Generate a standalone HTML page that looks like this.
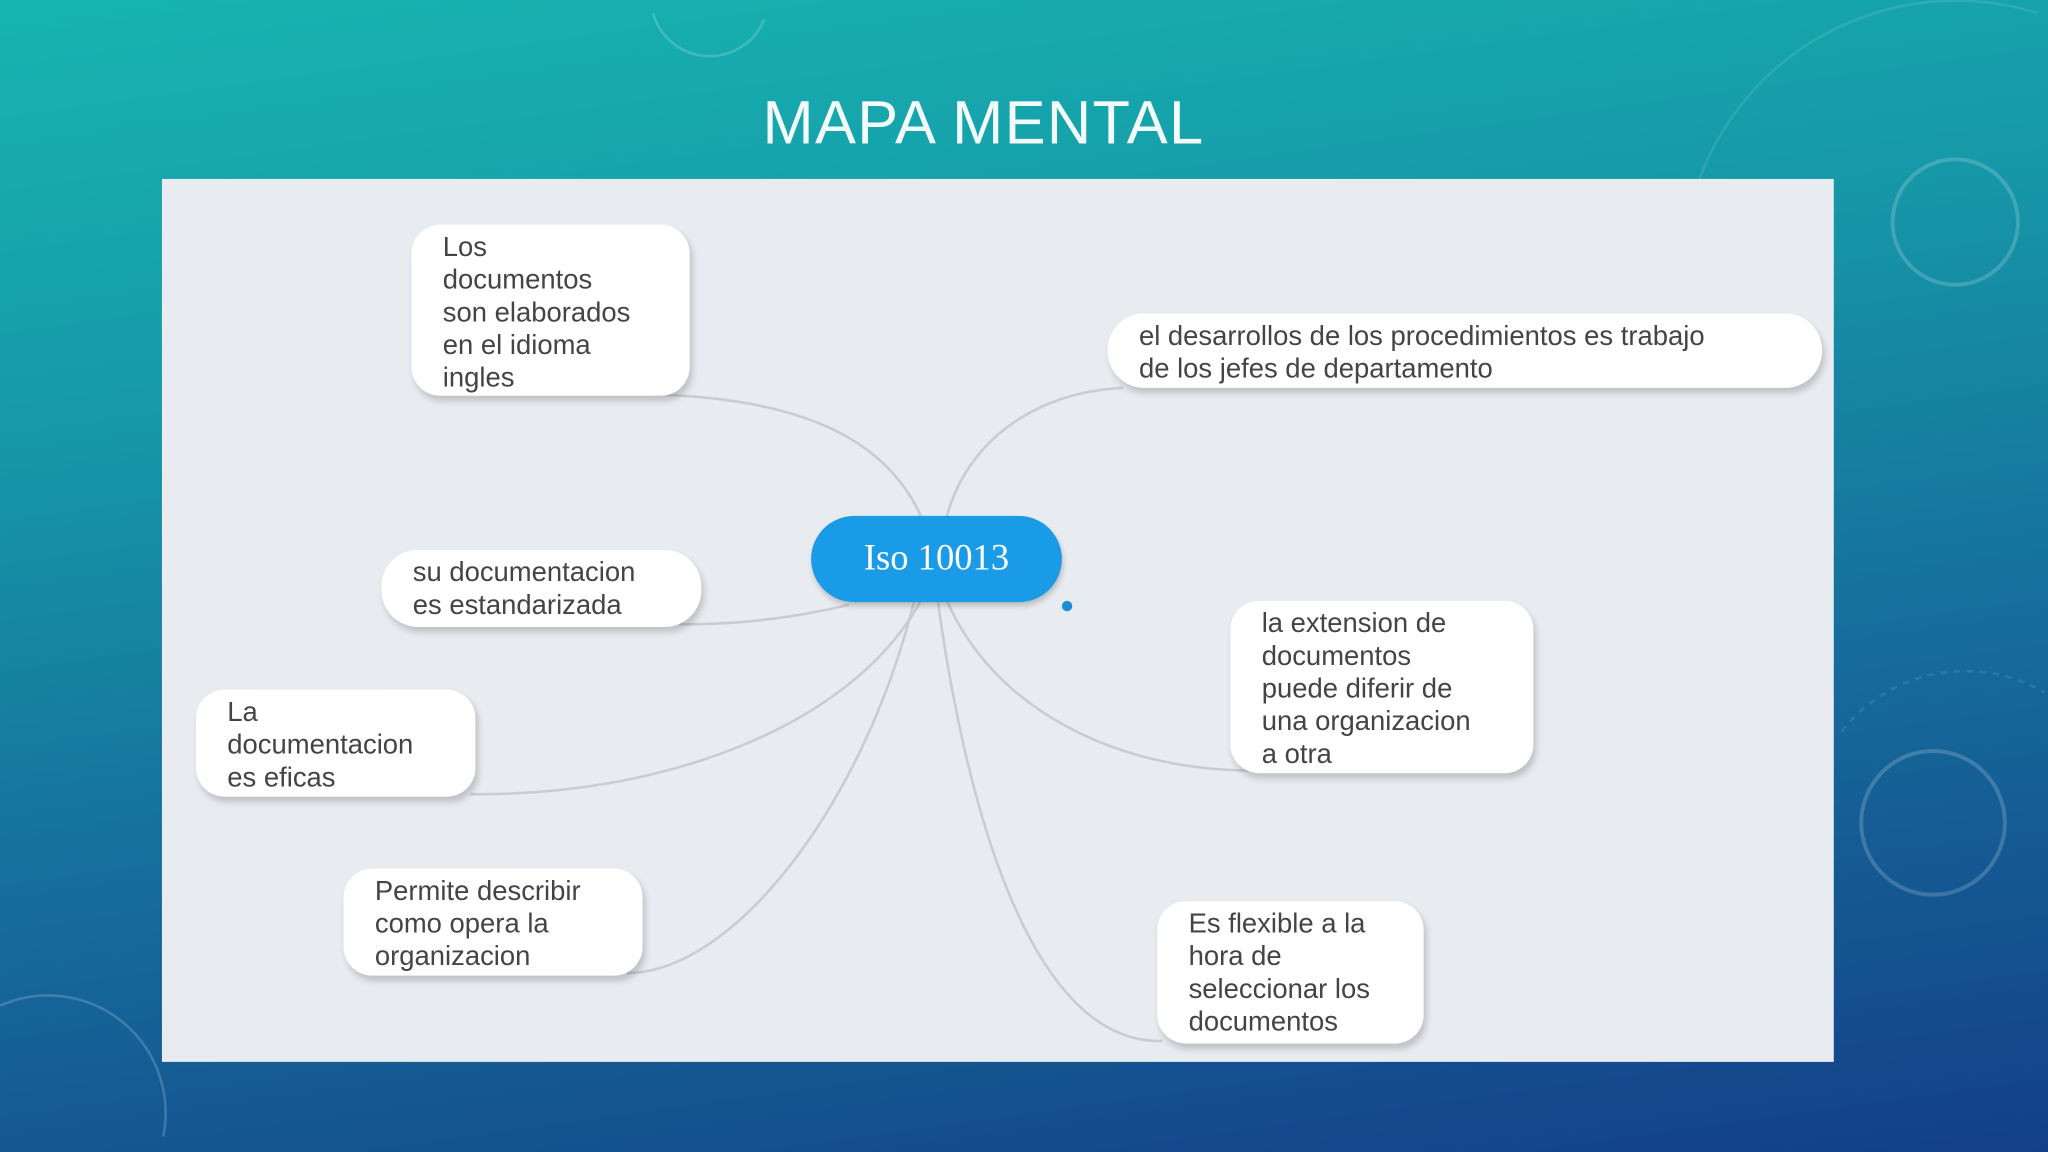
<!DOCTYPE html>
<html><head><meta charset="utf-8"><style>
html,body{margin:0;padding:0;width:2048px;height:1152px;overflow:hidden}
#s{width:1568px;height:882px;transform:scale(1.306122);transform-origin:0 0;position:relative;overflow:hidden;
background:linear-gradient(172deg,#17b5b1 0%,#1699a8 30%,#166e9c 62%,#133f88 100%);font-family:"Liberation Sans",sans-serif}
.t{position:absolute;left:0;width:1506px;text-align:center;top:66px;color:rgba(255,255,255,.95);font-size:47px;letter-spacing:1px}
.p{position:absolute;left:124px;top:137px;width:1280px;height:676px;background:#e8ebf0}
.n{position:absolute;background:#fff;border-radius:22px;box-shadow:2px 4px 5px rgba(0,0,0,.18);color:#444;font-size:21px;line-height:25px;box-sizing:border-box;padding:5px 0 0 24px}
svg{position:absolute;left:0;top:0}
</style></head><body><div id="s">
<svg width="1568" height="882" viewBox="0 0 1568 882" fill="none" stroke="rgba(255,255,255,.18)" stroke-width="2">
<path d="M500 10 A45 45 0 0 0 585 15"/>
<circle cx="1497" cy="170" r="48" stroke-width="3"/>
<circle cx="1480" cy="630" r="55" stroke-width="3"/>
<path d="M0 770 A90 90 0 0 1 125 870"/>
<path d="M1300 140 A210 210 0 0 1 1560 10" stroke="rgba(255,255,255,.1)"/>
<path d="M1410 560 A120 120 0 0 1 1565 530" stroke="rgba(255,255,255,.1)" stroke-dasharray="5 5"/>
</svg>
<div class="t">MAPA MENTAL</div>
<div class="p"></div>
<svg width="1568" height="882" fill="none" stroke="#c9cdd3" stroke-width="2">
<path d="M705 395 C680 340 620 305 500 302"/>
<path d="M725 395 C740 340 790 300 860 297"/>
<path d="M650 463 C600 475 560 478 520 478"/>
<path d="M705 460 C650 560 500 610 360 608"/>
<path d="M700 460 C660 620 560 745 480 745"/>
<path d="M725 460 C760 540 850 590 960 590"/>
<path d="M718 460 C740 620 790 800 890 797"/>
</svg>
<div class="n" style="left:315px;top:172px;width:213px;height:131px">Los<br>documentos<br>son elaborados<br>en el idioma<br>ingles</div>
<div class="n" style="left:848px;top:240px;width:547px;height:57px;border-radius:28px">el desarrollos de los procedimientos es trabajo<br>de los jefes de departamento</div>
<div class="n" style="left:292px;top:421px;width:245px;height:59px;border-radius:28px">su documentacion<br>es estandarizada</div>
<div class="n" style="left:150px;top:528px;width:214px;height:82px">La<br>documentacion<br>es eficas</div>
<div class="n" style="left:263px;top:665px;width:229px;height:82px">Permite describir<br>como opera la<br>organizacion</div>
<div class="n" style="left:942px;top:460px;width:232px;height:132px">la extension de<br>documentos<br>puede diferir de<br>una organizacion<br>a otra</div>
<div class="n" style="left:886px;top:690px;width:204px;height:109px">Es flexible a la<br>hora de<br>seleccionar los<br>documentos</div>
<div style="position:absolute;left:621px;top:395px;width:192px;height:66px;border-radius:33px;background:#1a9be8;color:#fff;font-family:'Liberation Serif',serif;font-size:28px;line-height:66px;text-align:center;box-shadow:1px 3px 4px rgba(0,0,0,.2)">Iso 10013</div>
<div style="position:absolute;left:813px;top:460px;width:8px;height:8px;border-radius:50%;background:#1a8fd8"></div>
</div></body></html>
